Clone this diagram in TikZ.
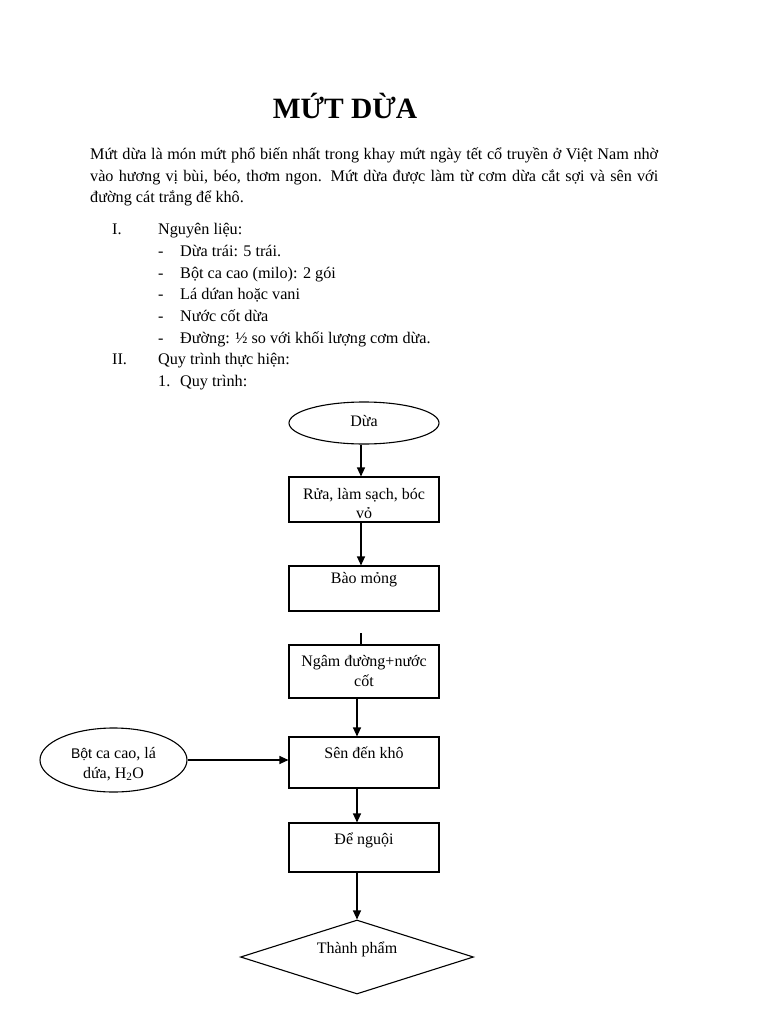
\documentclass[tikz,border=0pt]{standalone}
\usepackage{fontspec}
\setmainfont{Liberation Serif}
\newfontfamily\sansf{Liberation Sans}
\usetikzlibrary{shapes.geometric,arrows.meta}
\begin{document}
\begin{tikzpicture}[x=1pt,y=-1pt,
  box/.style={draw,line width=1.1pt,rectangle,inner sep=0pt,minimum width=150pt},
  ell/.style={draw,line width=1.1pt,ellipse,inner sep=0pt},
  conn/.style={line width=1.1pt},
  arr/.style={line width=1.1pt,-{Triangle[width=8pt,length=9pt]}},
  txt/.style={anchor=base west,inner sep=0pt,font=\fontsize{16.2}{19}\selectfont},
  ftxt/.style={inner sep=0pt,align=center,font=\fontsize{16}{20}\selectfont}]
\useasboundingbox[fill=white] (0,0) rectangle (768,1024);

% title
\node[anchor=base,inner sep=0pt,font=\bfseries\fontsize{29.5}{32}\selectfont] (title) at (345,119) {MỨT DỪA};

% paragraph
\node[txt] (p1) at (90,160) {\makebox[568pt][s]{Mứt dừa là món mứt phổ biến nhất trong khay mứt ngày tết cổ truyền ở Việt Nam nhờ}};
\node[txt] (p2) at (90,181.5) {\makebox[568pt][s]{vào hương vị bùi, béo, thơm ngon. Mứt dừa được làm từ cơm dừa cắt sợi và sên với}};
\node[txt] (p3) at (90,203) {đường cát trắng để khô.};

% list
\node[txt] (n1) at (112,234.5) {I.};
\node[txt] (n1t) at (158,234.5) {Nguyên liệu:};
\node[txt] (d1) at (158,256.5) {-};
\node[txt] (i1) at (180,256.5) {Dừa trái: 5 trái.};
\node[txt] (d2) at (158,278) {-};
\node[txt] (i2) at (180,278) {Bột ca cao (milo): 2 gói};
\node[txt] (d3) at (158,299.5) {-};
\node[txt] (i3) at (180,299.5) {Lá dứan hoặc vani};
\node[txt] (d4) at (158,321) {-};
\node[txt] (i4) at (180,321) {Nước cốt dừa};
\node[txt] (d5) at (158,343) {-};
\node[txt] (i5) at (180,343) {Đường: ½ so với khối lượng cơm dừa.};
\node[txt] (n2) at (112,364.5) {II.};
\node[txt] (n2t) at (158,364.5) {Quy trình thực hiện:};
\node[txt] (s1) at (158,386) {1.};
\node[txt] (s1t) at (180,386) {Quy trình:};

% flowchart shapes
\node[ell,minimum width=150pt,minimum height=42pt] (e1) at (364,423) {};
\node[ftxt] (e1t) at (364,421) {Dừa};
\node[box,minimum height=45pt] (b1) at (364,499.5) {};
\node[ftxt,font=\fontsize{16}{19}\selectfont] (b1t) at (364,503.5) {Rửa, làm sạch, bóc\\vỏ};
\node[box,minimum height=45pt] (b2) at (364,588.5) {};
\node[ftxt] (b2t) at (364,580) {Bào mỏng};
\node[box,minimum height=53pt] (b3) at (364,671.5) {};
\node[ftxt] (b3t) at (364,671.5) {Ngâm đường+nước\\cốt};
\node[box,minimum height=51pt] (b4) at (364,762.5) {};
\node[ftxt] (b4t) at (364,753) {Sên đến khô};
\node[ell,minimum width=147pt,minimum height=64pt] (e2) at (113.5,760) {};
\node[ftxt] (e2t) at (113.5,764) {{\sansf\fontsize{14}{20}\selectfont Bột} ca cao, lá\\dứa, H\textsubscript{2}O};
\node[box,minimum height=49pt] (b5) at (364,847.5) {};
\node[ftxt] (b5t) at (364,840) {Để nguội};
\node[draw,line width=1.1pt,diamond,inner sep=0pt,minimum width=233pt,minimum height=74pt] (dm) at (357,957) {};
\node[ftxt] (dmt) at (357,949) {Thành phẩm};

% connector columns
\coordinate (ca) at (361,0);
\coordinate (cb) at (357,0);
\coordinate (tk) at (361,633);

\draw[arr] (e1.south -| ca) -- (b1.north -| ca);
\draw[arr] (b1.south -| ca) -- (b2.north -| ca);
\draw[conn] (tk) -- (b3.north -| tk);
\draw[arr] (b3.south -| cb) -- (b4.north -| cb);
\draw[arr] (e2.east) -- (e2.east -| b4.west);
\draw[arr] (b4.south -| cb) -- (b5.north -| cb);
\draw[arr] (b5.south -| cb) -- (dm.north);
\end{tikzpicture}
\end{document}
